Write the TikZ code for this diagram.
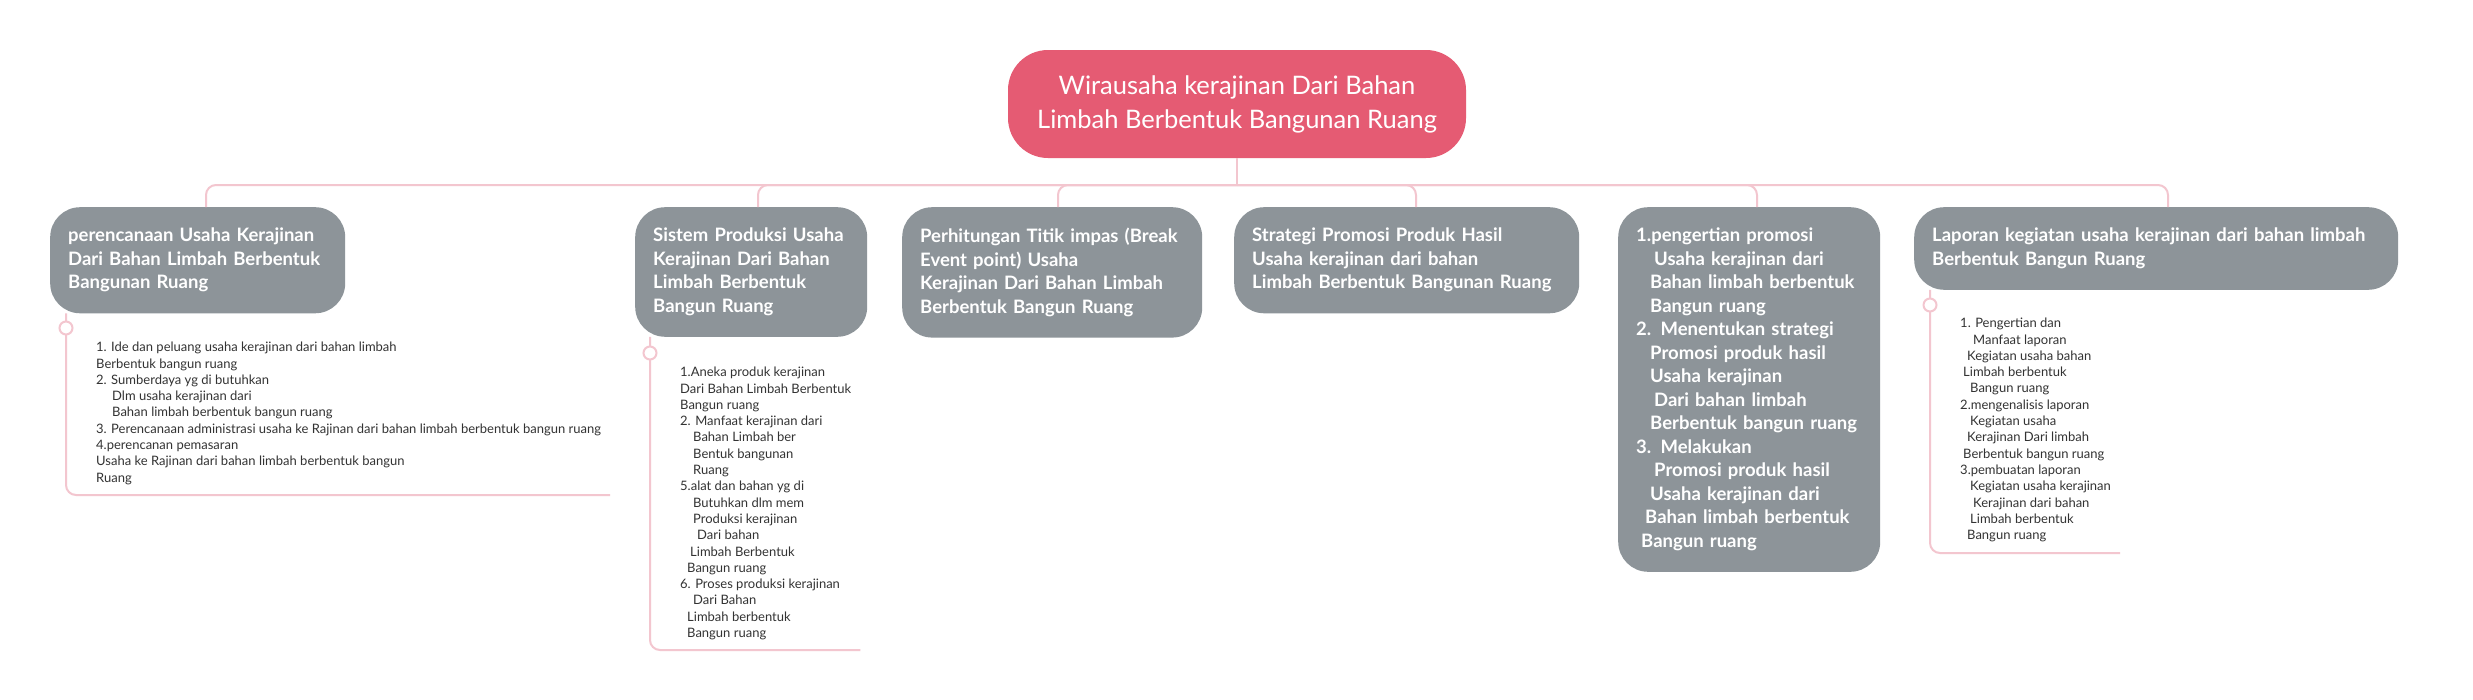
\documentclass[tikz,border=0pt]{standalone}
\usepackage{fontspec}
\setmainfont{Lato}
\definecolor{rootc}{HTML}{E55B73}
\definecolor{boxc}{HTML}{8D9499}
\definecolor{linkc}{HTML}{F3C6CF}
\definecolor{txtc}{HTML}{333333}
\tikzset{
  conn/.style={draw=linkc, line width=2pt, rounded corners=10pt},
  gbox/.style={fill=boxc, rounded corners=30pt, anchor=north west, inner xsep=18pt, inner ysep=21pt,
    align=left, text=white, font=\fontsize{18.5}{23.5}\selectfont\bfseries},
  rootbox/.style={fill=rootc, rounded corners=40pt, minimum width=458pt, minimum height=108pt,
    align=center, text=white, font=\fontsize{25.5}{34}\selectfont},
  subtxt/.style={anchor=north west, inner sep=0pt, align=left, text=txtc,
    font=\fontsize{13}{16.3}\selectfont},
  handle/.style={circle, draw=linkc, line width=2pt, fill=white, minimum size=13pt, inner sep=0pt},
}
\begin{document}
\begin{tikzpicture}[x=1pt,y=-1pt]
\useasboundingbox[fill=white] (0,0) rectangle (2473,699);

% root
\node[rootbox] (root) at (1237,104) {Wirausaha kerajinan Dari Bahan\\Limbah Berbentuk Bangunan Ruang};

% main topics
\node[gbox, text width=259pt] (b1) at (50,207) {perencanaan Usaha Kerajinan\\Dari Bahan Limbah Berbentuk\\Bangunan Ruang};
\node[gbox, text width=196pt] (b2) at (635,207) {Sistem Produksi Usaha\\Kerajinan Dari Bahan\\Limbah Berbentuk\\Bangun Ruang};
\node[gbox, text width=264pt] (b3) at (902,207) {Perhitungan Titik impas (Break\\Event point) Usaha\\Kerajinan Dari Bahan Limbah\\Berbentuk Bangun Ruang};
\node[gbox, text width=309pt] (b4) at (1234,207) {Strategi Promosi Produk Hasil\\Usaha kerajinan dari bahan\\Limbah Berbentuk Bangunan Ruang};
\node[gbox, text width=226pt] (b5) at (1618,207) {1.pengertian promosi\\
\hspace*{18pt}Usaha kerajinan dari\\
\hspace*{14pt}Bahan limbah berbentuk\\
\hspace*{14pt}Bangun ruang\\
2. Menentukan strategi\\
\hspace*{14pt}Promosi produk hasil\\
\hspace*{14pt}Usaha kerajinan\\
\hspace*{18pt}Dari bahan limbah\\
\hspace*{14pt}Berbentuk bangun ruang\\
3. Melakukan\\
\hspace*{18pt}Promosi produk hasil\\
\hspace*{14pt}Usaha kerajinan dari\\
\hspace*{9pt}Bahan limbah berbentuk\\
\hspace*{5pt}Bangun ruang};
\node[gbox, text width=448pt] (b6) at (1914,207) {Laporan kegiatan usaha kerajinan dari bahan limbah\\Berbentuk Bangun Ruang};

% connectors root -> topics
\coordinate (j) at (1237,185);
\coordinate (d1) at (206,185);
\coordinate (d2) at (758,185);
\coordinate (d3) at (1058,185);
\coordinate (d4) at (1416,185);
\coordinate (d5) at (1757,185);
\coordinate (d6) at (2168,185);
\draw[conn] (root.south) -- (j);
\draw[conn] (j) -| (b1.north -| d1);
\draw[conn] (j) -| (b2.north -| d2);
\draw[conn] (j) -| (b3.north -| d3);
\draw[conn] (j) -| (b4.north -| d4);
\draw[conn] (j) -| (b5.north -| d5);
\draw[conn] (j) -| (b6.north -| d6);

% subtopics
\node[subtxt] (s1) at (96,342) {1. Ide dan peluang usaha kerajinan dari bahan limbah\\
Berbentuk bangun ruang\\
2. Sumberdaya yg di butuhkan\\
\hspace*{16pt}Dlm usaha kerajinan dari\\
\hspace*{16pt}Bahan limbah berbentuk bangun ruang\\
3. Perencanaan administrasi usaha ke Rajinan dari bahan limbah berbentuk bangun ruang\\
4.perencanan pemasaran\\
Usaha ke Rajinan dari bahan limbah berbentuk bangun\\
Ruang};
\node[subtxt] (s2) at (680,367) {1.Aneka produk kerajinan\\
Dari Bahan Limbah Berbentuk\\
Bangun ruang\\
2. Manfaat kerajinan dari\\
\hspace*{13pt}Bahan Limbah ber\\
\hspace*{13pt}Bentuk bangunan\\
\hspace*{13pt}Ruang\\
5.alat dan bahan yg di\\
\hspace*{13pt}Butuhkan dlm mem\\
\hspace*{13pt}Produksi kerajinan\\
\hspace*{17pt}Dari bahan\\
\hspace*{10pt}Limbah Berbentuk\\
\hspace*{7pt}Bangun ruang\\
6. Proses produksi kerajinan\\
\hspace*{13pt}Dari Bahan\\
\hspace*{7pt}Limbah berbentuk\\
\hspace*{7pt}Bangun ruang};
\node[subtxt] (s6) at (1960,318) {1. Pengertian dan\\
\hspace*{13pt}Manfaat laporan\\
\hspace*{7pt}Kegiatan usaha bahan\\
\hspace*{3pt}Limbah berbentuk\\
\hspace*{10pt}Bangun ruang\\
2.mengenalisis laporan\\
\hspace*{10pt}Kegiatan usaha\\
\hspace*{7pt}Kerajinan Dari limbah\\
\hspace*{3pt}Berbentuk bangun ruang\\
3.pembuatan laporan\\
\hspace*{10pt}Kegiatan usaha kerajinan\\
\hspace*{13pt}Kerajinan dari bahan\\
\hspace*{10pt}Limbah berbentuk\\
\hspace*{7pt}Bangun ruang};

% subtopic connectors
\coordinate (c1) at (66,495);
\coordinate (c2) at (650,650);
\coordinate (c6) at (1930,553);
\coordinate (e1) at ([xshift=9pt]s1.east);
\coordinate (e2) at ([xshift=9pt]s2.east);
\coordinate (e6) at ([xshift=9pt]s6.east);
\draw[conn] (b1.south -| c1) -- (c1) -- (c1 -| e1);
\draw[conn] (b2.south -| c2) -- (c2) -- (c2 -| e2);
\draw[conn] (b6.south -| c6) -- (c6) -- (c6 -| e6);
\node[handle] (h1) at (66,328) {};
\node[handle] (h2) at (650,353) {};
\node[handle] (h6) at (1930,305) {};
\end{tikzpicture}
\end{document}
